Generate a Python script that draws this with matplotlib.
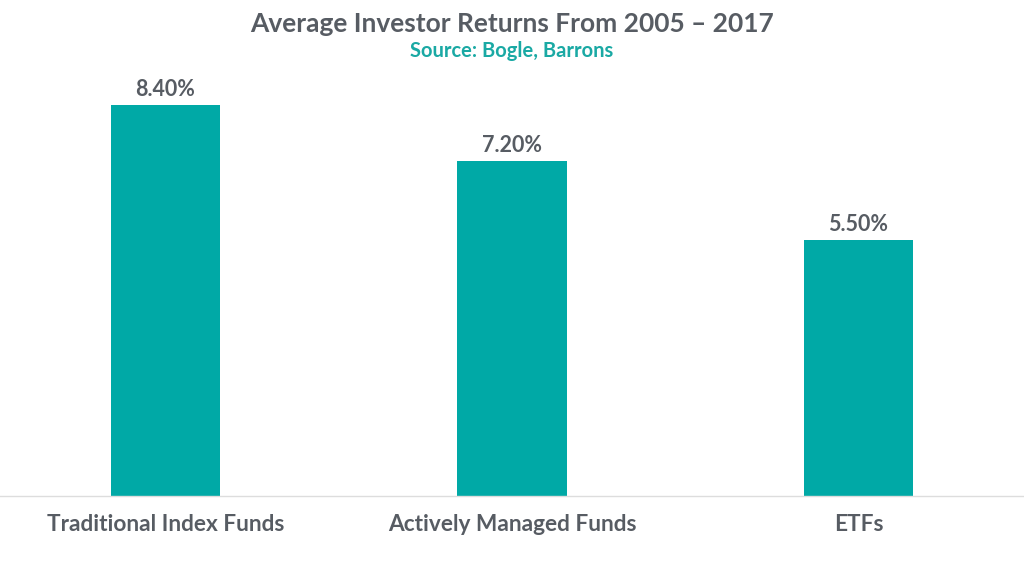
import matplotlib
matplotlib.use("Agg")
import matplotlib.pyplot as plt

categories = ["Traditional Index Funds", "Actively Managed Funds", "ETFs"]
returns = [8.40, 7.20, 5.50]
title = "Average Investor Returns From 2005 \u2013 2017"
subtitle = "Source: Bogle, Barrons"

bar_color = "#00A9A6"
text_color = "#575C63"
sub_color = "#1AA9A4"
font = ["Lato", "DejaVu Sans"]

fig = plt.figure(figsize=(10.24, 5.76), dpi=100)
ax = fig.add_axes([0, 80/576, 1, 440/576])
x = list(range(len(categories)))
ax.bar(x, returns, width=0.3146, color=bar_color, zorder=2)
ax.set_xlim(-0.4776, 2.4776)
ax.set_ylim(0, 440/46.5)

for xi, v in zip(x, returns):
    ax.annotate(f"{v:.2f}%", (xi, v), xytext=(0, 4), textcoords="offset points",
                ha="center", va="bottom", fontsize=15.5, fontweight="bold",
                color=text_color, family=font)

ax.set_xticks(x)
ax.set_xticklabels(categories, fontsize=16.3, fontweight="bold", color=text_color, family=font)
ax.tick_params(axis="x", length=0, pad=13)
ax.set_yticks([])
for s in ["top", "left", "right"]:
    ax.spines[s].set_visible(False)
ax.spines["bottom"].set_color("#DDDDDD")
ax.spines["bottom"].set_linewidth(1)

fig.text(0.5, 1 - 24/576, title, ha="center", va="center", fontsize=19,
         fontweight="bold", color=text_color, family=font)
fig.text(0.5, 1 - 51/576, subtitle, ha="center", va="center", fontsize=14.5,
         fontweight="bold", color=sub_color, family=font)

fig.savefig("out.png", dpi=100, facecolor="white")
